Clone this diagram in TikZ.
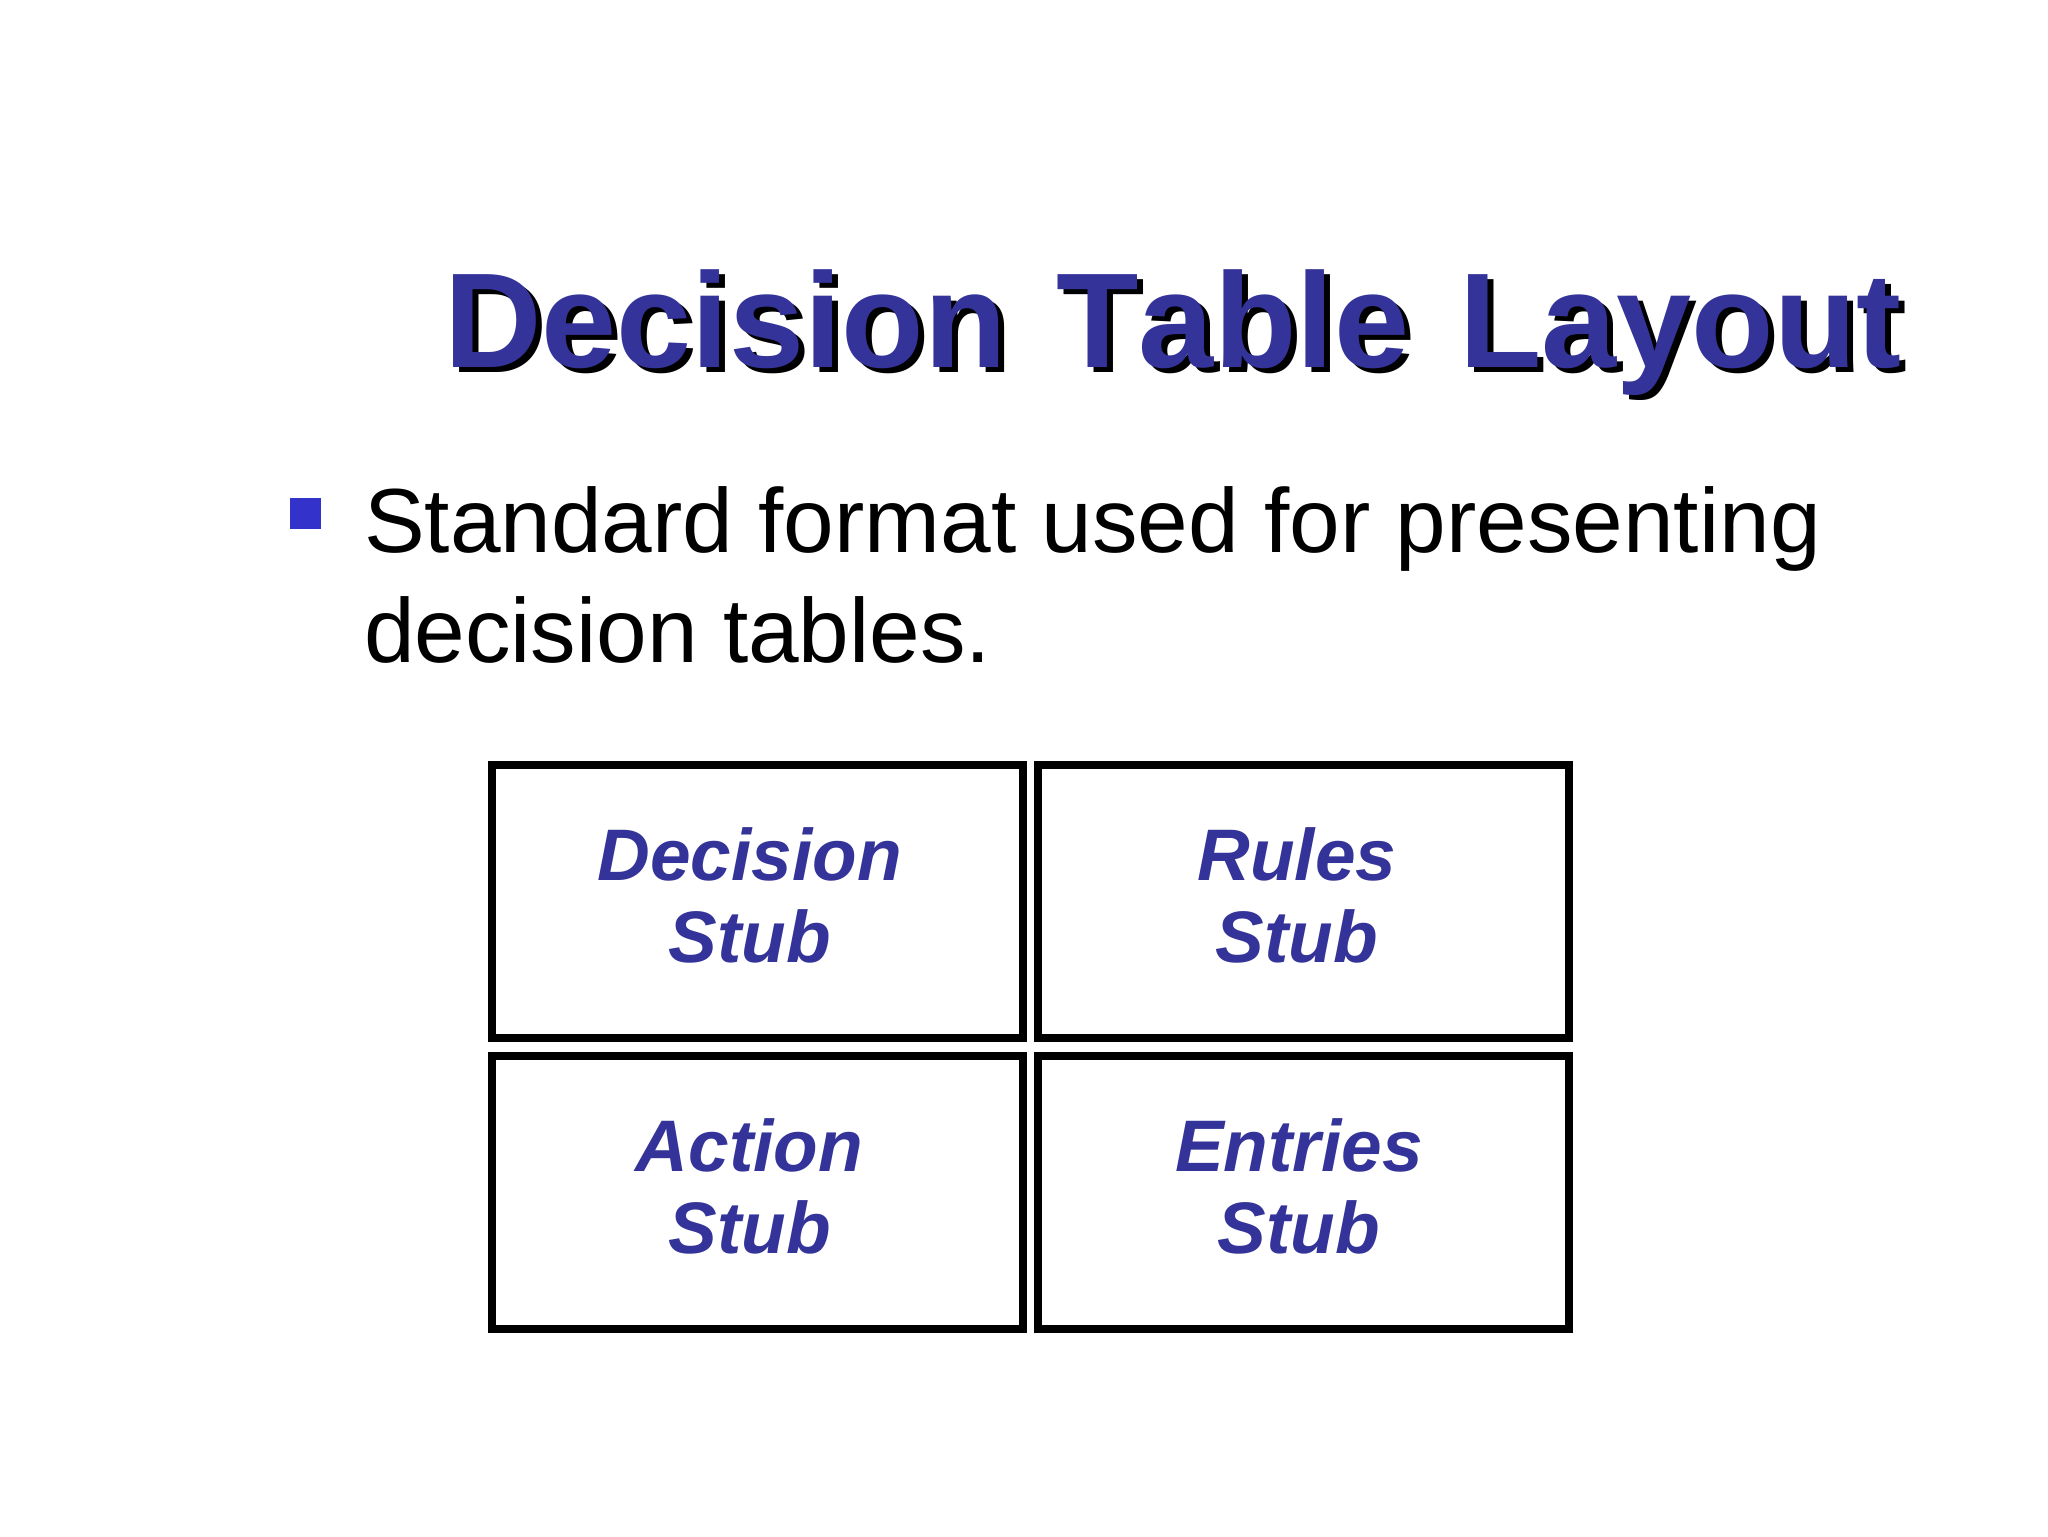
\documentclass[tikz,border=0pt]{standalone}
\usepackage{fontspec}
\setmainfont{Liberation Sans}
\definecolor{slideblue}{HTML}{333399}
\definecolor{bulletblue}{HTML}{3333CC}
\newcommand{\titlegap}{\hspace{0.37em}}
\begin{document}
\begin{tikzpicture}[
    x=0.5pt, y=-0.5pt,
    every node/.style={inner sep=0pt, outer sep=0pt},
    title/.style={anchor=base west, font=\fontsize{67.5}{80}\selectfont\bfseries\addfontfeatures{Kerning=Off}},
    bodytext/.style={anchor=base west, font=\fontsize{45.5}{55}\selectfont},
    bullet/.style={fill=bulletblue, minimum size=15.5pt},
    stub/.style={draw, line width=4pt, minimum width=265.5pt, minimum height=136.5pt,
        align=center, text=slideblue, font=\fontsize{36.5}{41}\selectfont\bfseries\itshape},
    stubtext/.style={align=center, text=slideblue, font=\fontsize{36.5}{41}\selectfont\bfseries\itshape}
]
\useasboundingbox (0,0) rectangle (2048,1536);
% title with its shadow
\node[title, text=black] (title-shadow) at (450,372) {Decision\titlegap Table\titlegap Layout};
\node[title, text=slideblue] (title) at (444,367) {Decision\titlegap Table\titlegap Layout};
% bullet point
\node[bullet] (dot) at (305.5,513.5) {};
\node[bodytext] (line1) at (364,552) {Standard format used for presenting};
\node[bodytext] (line2) at (364,662) {decision tables.};
% the four parts of the table
\node[stub] (decision) at (757.5,901.5) {};
\node[stub] (rules) at (1303,901.5) {};
\node[stub] (action) at (757.5,1192.5) {};
\node[stub] (entries) at (1303,1192.5) {};
\node[stubtext] (decision-text) at ([xshift=-4pt, yshift=3pt]decision) {Decision\\Stub};
\node[stubtext] (rules-text) at ([xshift=-3pt, yshift=3pt]rules) {Rules\\Stub};
\node[stubtext] (action-text) at ([xshift=-4pt, yshift=3pt]action) {Action\\Stub};
\node[stubtext] (entries-text) at ([xshift=-2pt, yshift=3pt]entries) {Entries\\Stub};
\end{tikzpicture}
\end{document}
